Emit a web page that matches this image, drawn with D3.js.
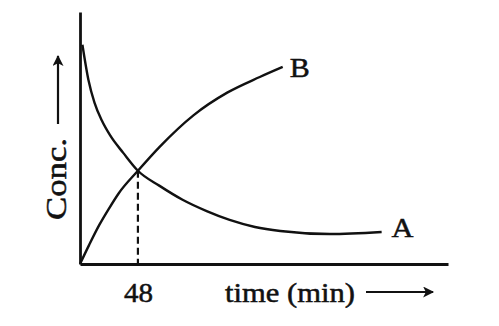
<!DOCTYPE html>
<html><head><meta charset="utf-8">
<script src="https://cdn.jsdelivr.net/npm/d3@7"></script>
<style>
html,body{margin:0;padding:0;background:#fff;}
svg{display:block;}
text{font-family:"Liberation Serif","Times New Roman",serif;fill:#111;stroke:#111;stroke-width:0.5px;}
</style></head>
<body>
<svg id="c" width="499" height="326"></svg>
<script>
// Data (time in min, concentration in arbitrary units)
const timeA = [2, 7, 12, 18, 25, 36, 48, 66, 85, 105, 124, 145, 166, 207, 250];
const concA = [0.87, 0.73, 0.64, 0.57, 0.51, 0.44, 0.37, 0.31, 0.255, 0.21, 0.175, 0.147, 0.131, 0.119, 0.127];
const timeB = [0, 7.5, 16, 24, 32, 48, 66, 94, 122, 149, 168];
const concB = [0, 0.075, 0.155, 0.22, 0.28, 0.37, 0.465, 0.59, 0.68, 0.742, 0.782];
const tickTimes = [48];
const tickLabels = ["48"];
const crossConc = 0.37;
const seriesNames = ["A", "B"];
const xTitle = "time (min)";
const yTitle = "Conc.";

const svg = d3.select("#c");
const x = d3.scaleLinear().domain([0, 305]).range([80, 448]);
const y = d3.scaleLinear().domain([0, 1]).range([264, 12]);
const ink = "#111";

svg.append("defs").append("marker")
  .attr("id","ah").attr("viewBox","0 0 10 10").attr("refX",9).attr("refY",5)
  .attr("markerWidth",17).attr("markerHeight",11).attr("markerUnits","userSpaceOnUse")
  .attr("orient","auto")
  .append("path").attr("d","M0,0 L10,5 L0,10 L2.5,5 Z").attr("fill",ink);

// x axis
const gx = svg.append("g").attr("transform",`translate(0,${y(0)})`)
  .call(d3.axisBottom(x).tickValues(tickTimes).tickFormat((d,i)=>tickLabels[i]).tickSize(0).tickSizeOuter(0));
gx.select(".domain").attr("stroke",ink).attr("stroke-width",2.8);
gx.selectAll(".tick text").attr("font-size",27).attr("dy",0).attr("y",38)
  .attr("textLength",29).attr("lengthAdjust","spacingAndGlyphs");

// y axis
const gy = svg.append("g").attr("transform",`translate(${x(0)},0)`)
  .call(d3.axisLeft(y).tickValues([]).tickSizeOuter(0));
gy.select(".domain").attr("stroke",ink).attr("stroke-width",2.8);

// dashed drop line at intersection
svg.append("line")
  .attr("x1",x(tickTimes[0])).attr("x2",x(tickTimes[0])).attr("y1",y(crossConc)).attr("y2",y(0))
  .attr("stroke",ink).attr("stroke-width",2.2).attr("stroke-dasharray","7,4");

const line = d3.line().x(d=>x(d[0])).y(d=>y(d[1])).curve(d3.curveMonotoneX);
const dataA = timeA.map((t,i)=>[t, concA[i]]);
const dataB = timeB.map((t,i)=>[t, concB[i]]);
svg.append("path").attr("d",line(dataA)).attr("fill","none").attr("stroke",ink).attr("stroke-width",2.4);
svg.append("path").attr("d",line(dataB)).attr("fill","none").attr("stroke",ink).attr("stroke-width",2.4);

// series labels
const endA = dataA[dataA.length-1], endB = dataB[dataB.length-1];
svg.append("text").attr("x",x(endA[0])+10).attr("y",y(endA[1])+5)
  .attr("font-size",27).attr("textLength",22).attr("lengthAdjust","spacingAndGlyphs").text(seriesNames[0]);
svg.append("text").attr("x",x(endB[0])+7).attr("y",y(endB[1])+10)
  .attr("font-size",27).attr("textLength",20).attr("lengthAdjust","spacingAndGlyphs").text(seriesNames[1]);

// x title + arrow
svg.append("text").attr("x",225).attr("y",302).attr("font-size",27)
  .attr("textLength",130).attr("lengthAdjust","spacingAndGlyphs").text(xTitle);
svg.append("line").attr("x1",366).attr("x2",433).attr("y1",292).attr("y2",292)
  .attr("stroke",ink).attr("stroke-width",2.2).attr("marker-end","url(#ah)");

// y title + arrow
svg.append("text").attr("transform","translate(66,220) rotate(-90)").attr("font-size",29)
  .attr("textLength",82).attr("lengthAdjust","spacingAndGlyphs").text(yTitle);
svg.append("line").attr("x1",58).attr("x2",58).attr("y1",124).attr("y2",56)
  .attr("stroke",ink).attr("stroke-width",2.2).attr("marker-end","url(#ah)");
</script>
</body></html>
